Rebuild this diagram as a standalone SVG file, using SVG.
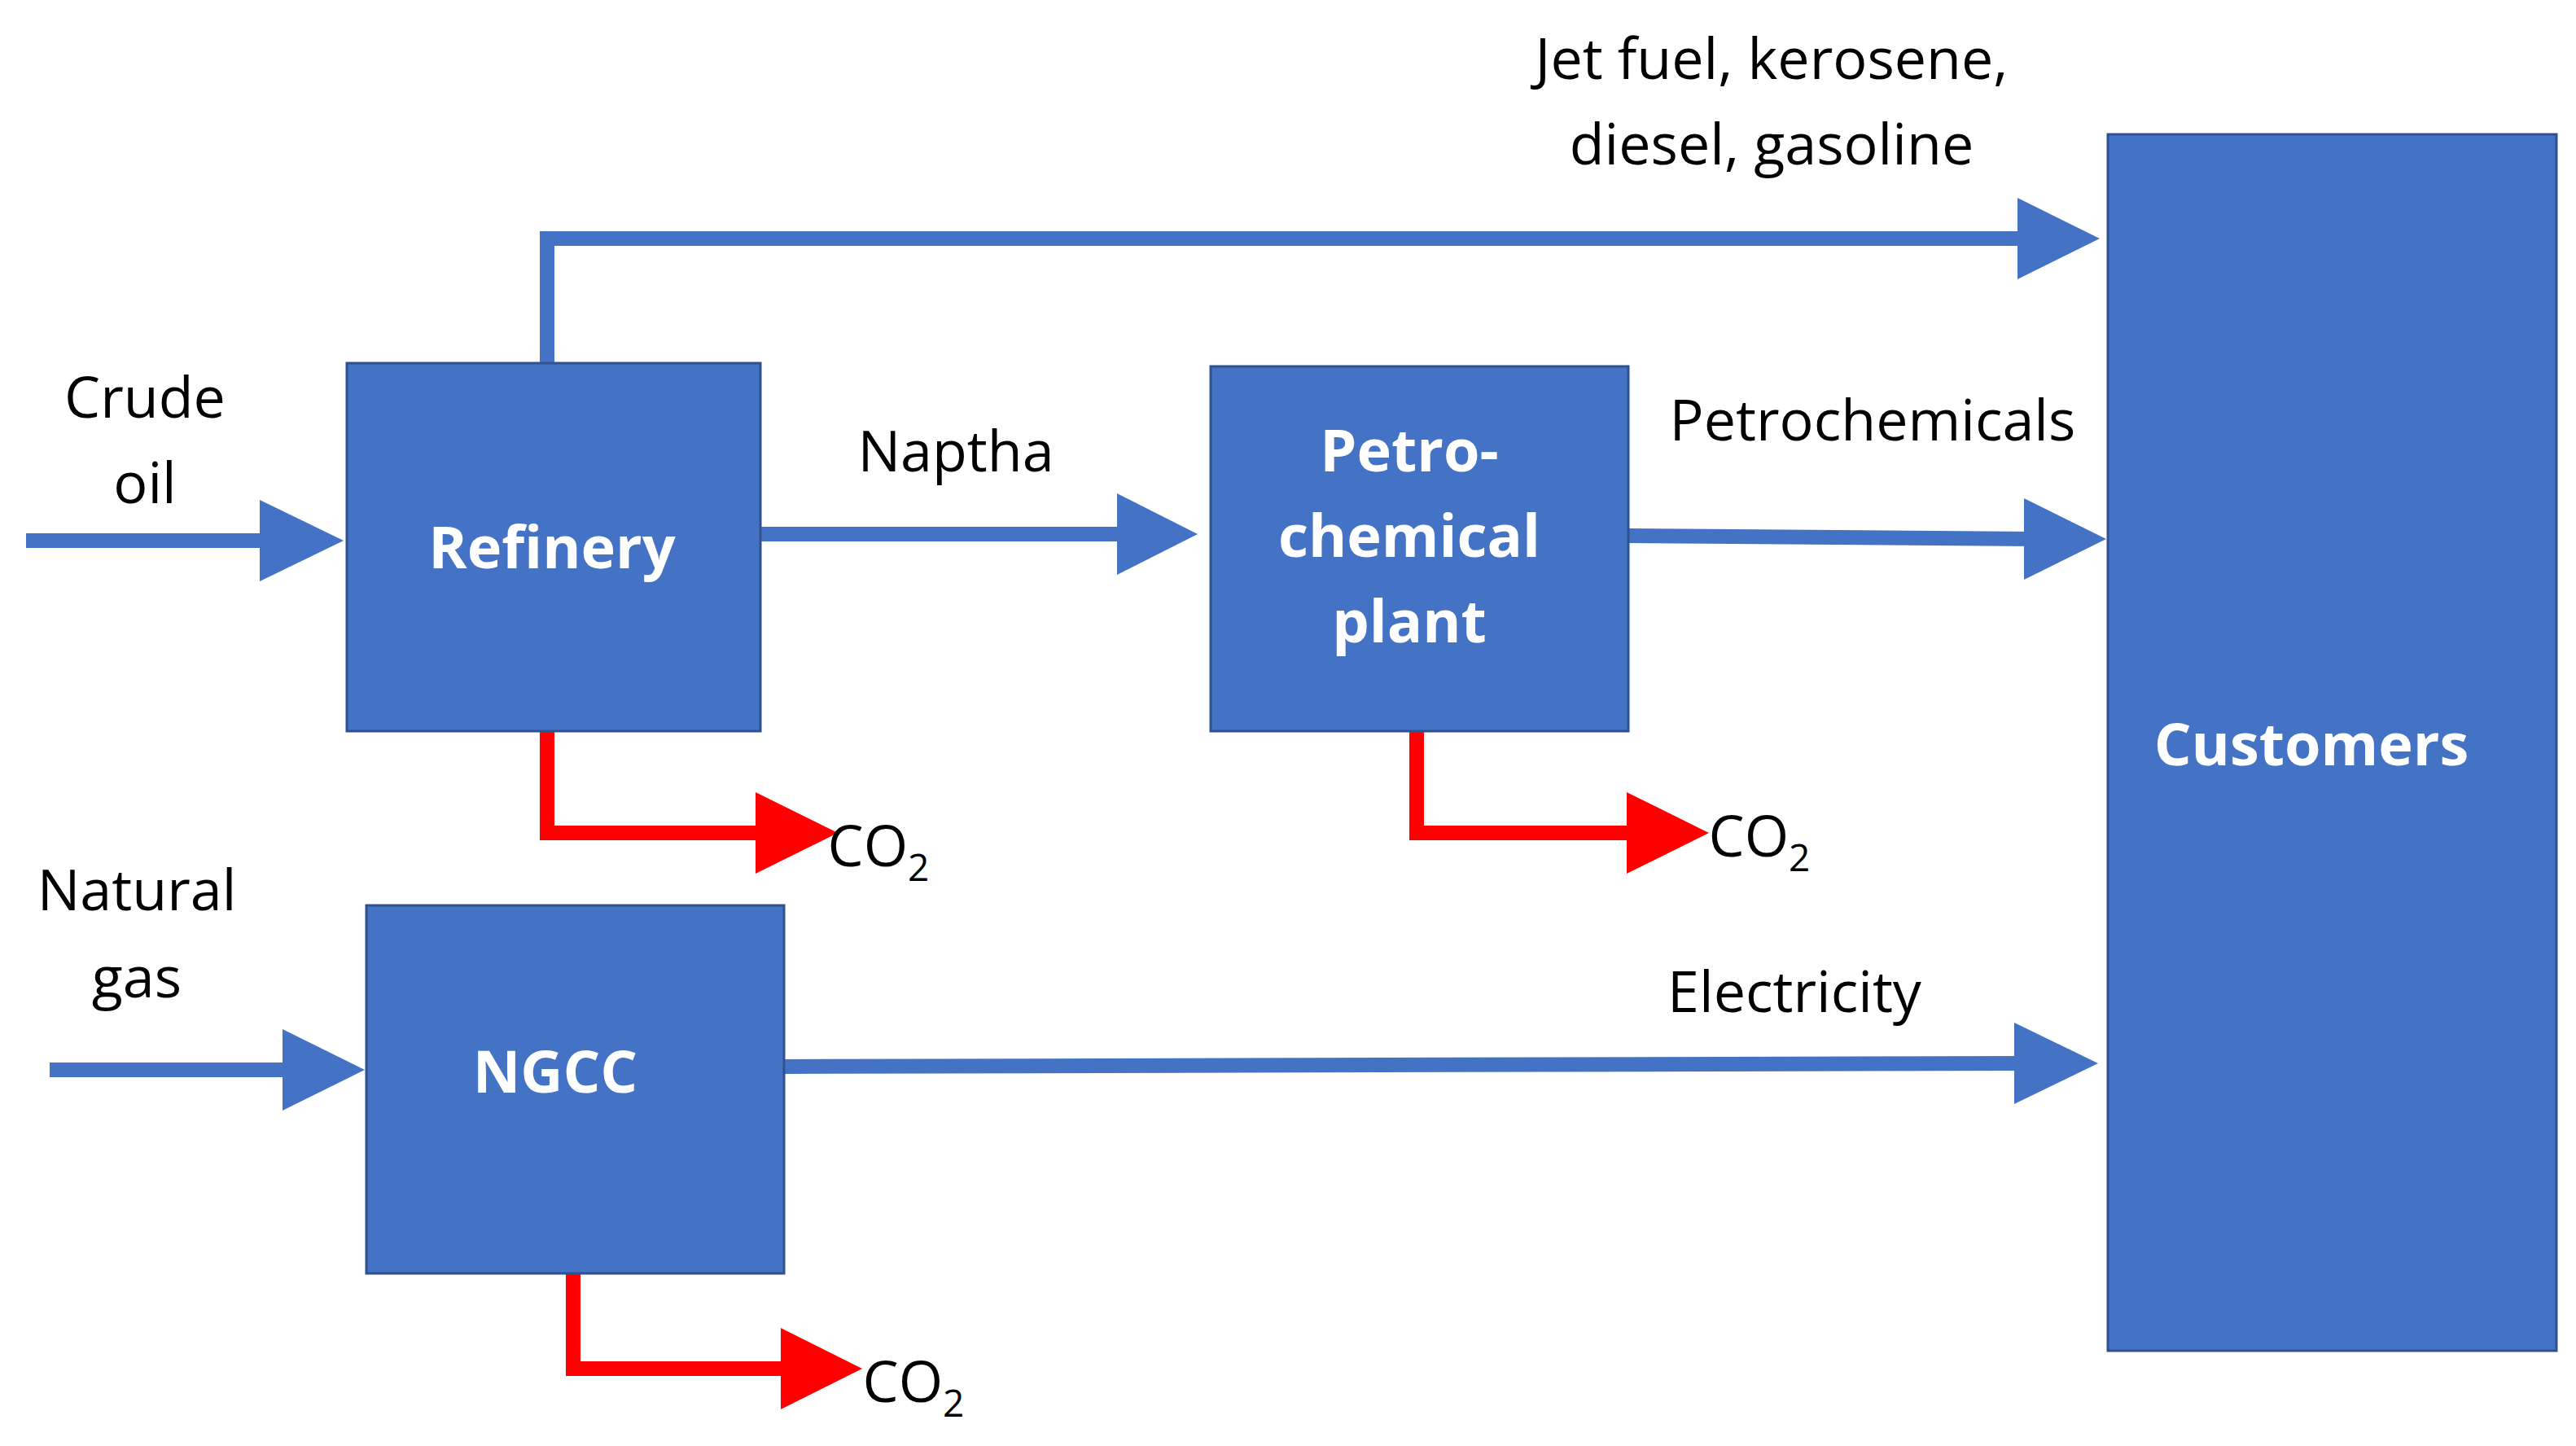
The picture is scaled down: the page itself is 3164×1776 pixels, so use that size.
<svg xmlns="http://www.w3.org/2000/svg" width="3164" height="1776" viewBox="0 0 3164 1776">
<style>
.box{fill:#4472C4;stroke:#2F528F;stroke-width:3}
.bl{fill:none;stroke:#4472C4;stroke-width:18}
.rd{fill:none;stroke:#FF0000;stroke-width:18}
.t{font-family:"Open Sans","Liberation Sans",sans-serif;font-size:70px;fill:#000;text-anchor:middle}
.w{font-family:"Open Sans","Liberation Sans",sans-serif;font-size:72px;font-weight:bold;fill:#fff;text-anchor:middle}
</style>
<rect width="3164" height="1776" fill="#fff"/>
<g id="connectors">
<path class="bl" d="M32 664H330"/><polygon fill="#4472C4" points="319,614 422,664 319,714"/>
<path class="bl" d="M672 446V293H2490"/><polygon fill="#4472C4" points="2478,243 2579,293 2478,343"/>
<path class="bl" d="M934 656H1385"/><polygon fill="#4472C4" points="1372,606 1471,656 1372,706"/>
<path class="bl" d="M2000 658L2498 662"/><polygon fill="#4472C4" points="2486,612 2587,662 2486,712"/>
<path class="bl" d="M963 1310L2486 1306"/><polygon fill="#4472C4" points="2474,1256 2577,1306 2474,1356"/>
<path class="bl" d="M61 1314H360"/><polygon fill="#4472C4" points="347,1264 448,1314 347,1364"/>
<path class="rd" d="M672 898V1023H940"/><polygon fill="#FF0000" points="928,973 1029,1023 928,1073"/>
<path class="rd" d="M1740 898V1023H2010"/><polygon fill="#FF0000" points="1998,973 2099,1023 1998,1073"/>
<path class="rd" d="M704 1564V1681H970"/><polygon fill="#FF0000" points="959,1631 1059,1681 959,1731"/>
</g>
<g id="refinery"><rect class="box" x="426" y="446" width="508" height="452"/><text class="w" x="678" y="698">Refinery</text></g>
<g id="petro"><rect class="box" x="1487" y="450" width="513" height="448"/><text class="w" x="1731" y="579">Petro-</text><text class="w" x="1731" y="684">chemical</text><text class="w" x="1731" y="789">plant</text></g>
<g id="ngcc"><rect class="box" x="450" y="1112" width="513" height="452"/><text class="w" x="682" y="1342">NGCC</text></g>
<g id="customers"><rect class="box" x="2589" y="165" width="551" height="1494"/><text class="w" x="2839" y="940">Customers</text></g>
<g id="labels">
<text class="t" x="178" y="513">Crude</text><text class="t" x="178" y="618">oil</text>
<text class="t" x="168" y="1118">Natural</text><text class="t" x="168" y="1225">gas</text>
<text class="t" x="2176" y="97">Jet fuel, kerosene,</text><text class="t" x="2176" y="202">diesel, gasoline</text>
<text class="t" x="1174" y="579">Naptha</text>
<text class="t" x="2300" y="541">Petrochemicals</text>
<text class="t" x="2204" y="1243">Electricity</text>
<text class="t" x="1079" y="1064" text-anchor="start">CO<tspan font-size="46" dy="18">2</tspan></text>
<text class="t" x="2161" y="1052" text-anchor="start">CO<tspan font-size="46" dy="18">2</tspan></text>
<text class="t" x="1122" y="1722" text-anchor="start">CO<tspan font-size="46" dy="18">2</tspan></text>
</g>
</svg>
